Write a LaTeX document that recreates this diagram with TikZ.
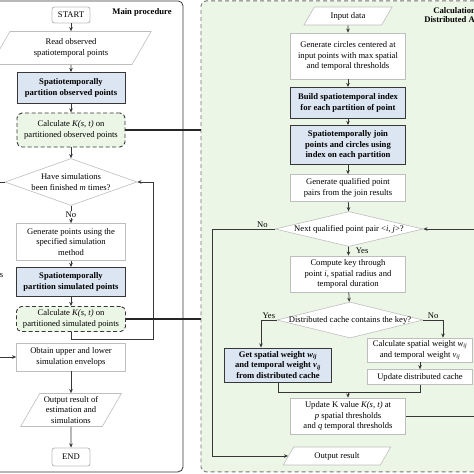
\documentclass[tikz,border=0pt]{standalone}
\usepackage{fontspec}
\setmainfont{Liberation Serif}
\usetikzlibrary{arrows.meta, shapes.geometric}
\definecolor{keyblue}{RGB}{220,230,242}
\definecolor{calcgreen}{RGB}{236,246,230}
\definecolor{boxgray}{RGB}{190,190,190}
\definecolor{darkline}{RGB}{55,55,55}

\begin{document}
\begin{tikzpicture}[x=1pt, y=-1pt, >={Stealth[length=4.2pt, width=3.6pt]}, line width=0.75pt,
  font=\fontsize{8.6}{10.8}\selectfont,
  every node/.style={align=center, inner sep=1pt},
  plain/.style={draw=boxgray, fill=white, line width=0.6pt, minimum width=115pt},
  keystep/.style={draw=darkline, fill=keyblue, line width=0.9pt, font=\fontsize{8.6}{10.8}\selectfont\bfseries},
  calcbox/.style={draw=darkline, fill=calcgreen, dashed, dash pattern=on 4pt off 2.5pt, rounded corners=5pt, line width=0.9pt},
  iobox/.style={trapezium, trapezium left angle=60, trapezium right angle=120, draw=boxgray, fill=white, line width=0.6pt},
  termbox/.style={draw=boxgray, fill=white, rounded corners=2.5pt, line width=0.9pt},
  decision/.style={diamond, draw=boxgray, fill=white, line width=0.6pt, inner sep=0pt},
  flow/.style={->, draw=darkline},
  link/.style={draw=black!85, line width=1.3pt}]
  \useasboundingbox (0,0) rectangle (474,474);
  % containers
  \node[draw=darkline, fill=white, rounded corners=5pt, line width=0.8pt, minimum width=213pt, minimum height=471pt] (mainbox) at (76.5,236.4) {};
  \node[draw=black!55, fill=calcgreen, dashed, dash pattern=on 4pt off 3pt, rounded corners=5pt, line width=0.9pt, minimum width=299pt, minimum height=471pt] (distbox) at (350.5,236.4) {};
  \node[font=\fontsize{8.6}{10}\selectfont\bfseries] (maintitle) at (142,12) {Main procedure};
  \node[font=\fontsize{8.6}{10}\selectfont\bfseries, anchor=west] (disttitle) at (432,11) {Calculation};
  \node[font=\fontsize{8.6}{10}\selectfont\bfseries, anchor=west] (disttitlb) at (423,19.5) {Distributed A};

  % main procedure
  \node[termbox, minimum width=38pt, minimum height=16pt] (start) at (71,15) {START};
  \node[iobox, minimum width=98pt, minimum height=33pt] (read) at (71,48) {Read observed\\spatiotemporal points};
  \node[keystep, minimum width=108pt, minimum height=31pt] (partobs) at (71,88) {Spatiotemporally\\partition observed points};
  \node[calcbox, minimum width=108pt, minimum height=34pt] (calcobs) at (71,130) {Calculate \textit{K(s, t)} on\\partitioned observed points};
  \node[decision, minimum width=132pt, minimum height=47pt, aspect=2.8] (simdone) at (71,182) {Have simulations\\been finished \textit{m} times?};
  \node[plain, minimum width=109pt, minimum height=37pt] (gensim) at (71,242) {Generate points using the\\specified simulation\\method};
  \node[keystep, minimum width=109pt, minimum height=29pt] (partsim) at (71,282) {Spatiotemporally\\partition simulated points};
  \node[calcbox, minimum width=109pt, minimum height=25pt] (calcsim) at (71,319) {Calculate \textit{K(s, t)} on\\partitioned simulated points};
  \node[plain, minimum width=109pt, minimum height=28pt] (envelop) at (71,357) {Obtain upper and lower\\simulation envelops};
  \node[iobox, minimum width=97pt, minimum height=33pt] (outest) at (71,410) {Output result of\\estimation and\\simulations};
  \node[termbox, minimum width=38pt, minimum height=18pt] (end) at (71,457) {END};
  \node[anchor=east] (simyes) at (4.5,275) {Yes};

  \draw[flow] (start) -- (read);
  \draw[flow] (read) -- (partobs);
  \draw[flow] (partobs) -- (calcobs);
  \draw[flow] (calcobs) -- (simdone);
  \draw[flow] (simdone) -- node[fill=white, inner sep=0.5pt] (simno) {No} (gensim);
  \draw[flow] (gensim) -- (partsim);
  \draw[flow] (partsim) -- (calcsim);
  \coordinate (simloop) at (153,339);
  \draw[flow] (calcsim.south) |- (simloop) |- (simdone.east);
  \coordinate (yesleft) at (-22,182);
  \draw[flow] (simdone.west) -- (yesleft) |- (envelop.west);
  \draw[flow] (envelop) -- (outest);
  \draw[flow] (outest) -- (end);
  \draw[link] (calcobs.east) -- (calcobs.east -| distbox.west);
  \draw[link] (calcsim.east) -- (calcsim.east -| distbox.west);

  % distributed calculation
  \node[iobox, minimum width=57pt, minimum height=18pt] (input) at (348,16) {Input data};
  \node[plain, minimum height=46pt] (circles) at (348,56) {Generate circles centered at\\input points with max spatial\\and temporal thresholds};
  \node[keystep, minimum width=115pt, minimum height=31pt] (stindex) at (348,103) {Build spatiotemporal index\\for each partition of point};
  \node[keystep, minimum width=115pt, minimum height=39pt] (stjoin) at (348,145) {Spatiotemporally join\\points and circles using\\index on each partition};
  \node[plain, minimum height=27pt] (pairs) at (348,188) {Generate qualified point\\pairs from the join results};
  \node[decision, minimum width=148pt, minimum height=35pt, aspect=4.2] (nextpair) at (349,229) {Next qualified point pair \textless\textit{i, j}\textgreater?};
  \node[plain, minimum height=36pt] (compkey) at (348,274) {Compute key through\\point \textit{i}, spatial radius and\\temporal duration};
  \node[decision, minimum width=146pt, minimum height=36pt] (incache) at (350,320) {\makebox[0pt]{Distributed cache contains the key?}};
  \node[keystep, minimum width=107pt, minimum height=34pt] (getw) at (278,365) {Get spatial weight \textit{w}\textsubscript{\textit{ij}}\\and temporal weight \textit{v}\textsubscript{\textit{ij}}\\from distributed cache};
  \node[plain, minimum width=105pt, minimum height=24pt] (calcw) at (420,350) {Calculate spatial weight \textit{w}\textsubscript{\textit{ij}}\\and temporal weight \textit{v}\textsubscript{\textit{ij}}};
  \node[plain, minimum width=105pt, minimum height=15pt] (updcache) at (420,377) {Update distributed cache};
  \node[plain, minimum height=36pt] (updk) at (348,416) {Update K value \textit{K(s, t)} at\\\textit{p} spatial thresholds\\and \textit{q} temporal thresholds};
  \node[iobox, minimum width=53pt, minimum height=18pt] (outres) at (337,456) {Output result};

  \draw[flow] (input) -- (circles);
  \draw[flow] (circles) -- (stindex);
  \draw[flow] (stindex) -- (stjoin);
  \draw[flow] (stjoin) -- (pairs);
  \draw[flow] (pairs) -- (nextpair);
  \draw[flow] (nextpair) -- node[right=6pt] (nextyes) {Yes} (compkey);
  \draw[flow] (compkey) -- (incache);
  \draw[flow] (incache.west) -| node[pos=0.25, above] (cacheyes) {Yes} ([xshift=-17pt]getw.north);
  \draw[flow] (incache.east) -| node[pos=0.25, above] (cacheno) {No} ([xshift=23pt]calcw.north);
  \draw[flow] (calcw) -- (updcache);
  \coordinate (wmerge) at (348,392);
  \draw[flow] (getw.south) |- (wmerge) -- (updk.north);
  \draw[draw=darkline] (updcache.south) |- (wmerge);
  \draw[flow] (updk.east) -- ++(90,0) |- (nextpair.east);
  \draw[flow] (nextpair.west) -- node[pos=0.2, above] (nextno) {No} ++(-62,0) |- (outres.west);
\end{tikzpicture}
\end{document}
